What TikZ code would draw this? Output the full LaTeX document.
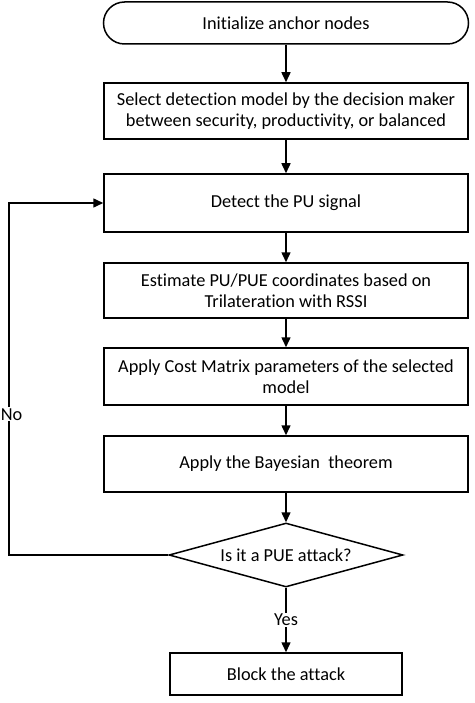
\documentclass[tikz,border=0pt]{standalone}
\usepackage{fontspec}
\setmainfont[Ligatures={NoCommon}]{Carlito}
\usetikzlibrary{arrows.meta,shapes.geometric}
\begin{document}
\begin{tikzpicture}[x=1pt,y=-1pt,
  every node/.style={font=\fontsize{18.3}{21}\selectfont, align=center},
  proc/.style={draw, line width=1.5pt, minimum width=364pt, inner sep=0pt},
  term/.style={draw, line width=1.5pt, rounded corners=21pt, minimum width=365pt, minimum height=42pt, inner sep=0pt},
  decision/.style={draw, diamond, line width=1.5pt, minimum width=234pt, minimum height=64pt, inner sep=0pt, shape aspect=3.66},
  flow/.style={line width=1.5pt, -{Triangle[length=10pt,width=9pt]}},
  lbl/.style={fill=white, inner sep=1pt}]
\useasboundingbox (0,0) rectangle (474,703);
\node[term] (init) at (286,23) {Initialize anchor nodes};
\node[proc, minimum height=56pt] (select) at (286,111) {Select detection model by the decision maker\\between security, productivity, or balanced};
\node[proc, minimum height=58pt] (detect) at (286,203) {Detect the PU signal};
\node[proc, minimum height=55pt] (estimate) at (286,290.5) {Estimate PU/PUE coordinates based on\\Trilateration with RSSI};
\node[proc, minimum height=57pt] (cost) at (286,376.5) {Apply Cost Matrix parameters of the selected\\model};
\node[proc, minimum height=56pt] (bayes) at (286,464) {Apply the Bayesian\ \ theorem};
\node[decision] (pue) at (286,555) {Is it a PUE attack?};
\node[proc, minimum width=232pt, minimum height=42pt] (block) at (286,674) {Block the attack};
\draw[flow] (init) -- (select);
\draw[flow] (select) -- (detect);
\draw[flow] (detect) -- (estimate);
\draw[flow] (estimate) -- (cost);
\draw[flow] (cost) -- (bayes);
\draw[flow] (bayes) -- (pue);
\draw[flow] (pue) -- node[lbl] {Yes} (block);
\draw[flow] (pue.west) -- (9,555) -- node[lbl, pos=0.40, xshift=2.5pt, inner xsep=0pt] {No} (9,203) -- (detect.west);
\end{tikzpicture}
\end{document}
